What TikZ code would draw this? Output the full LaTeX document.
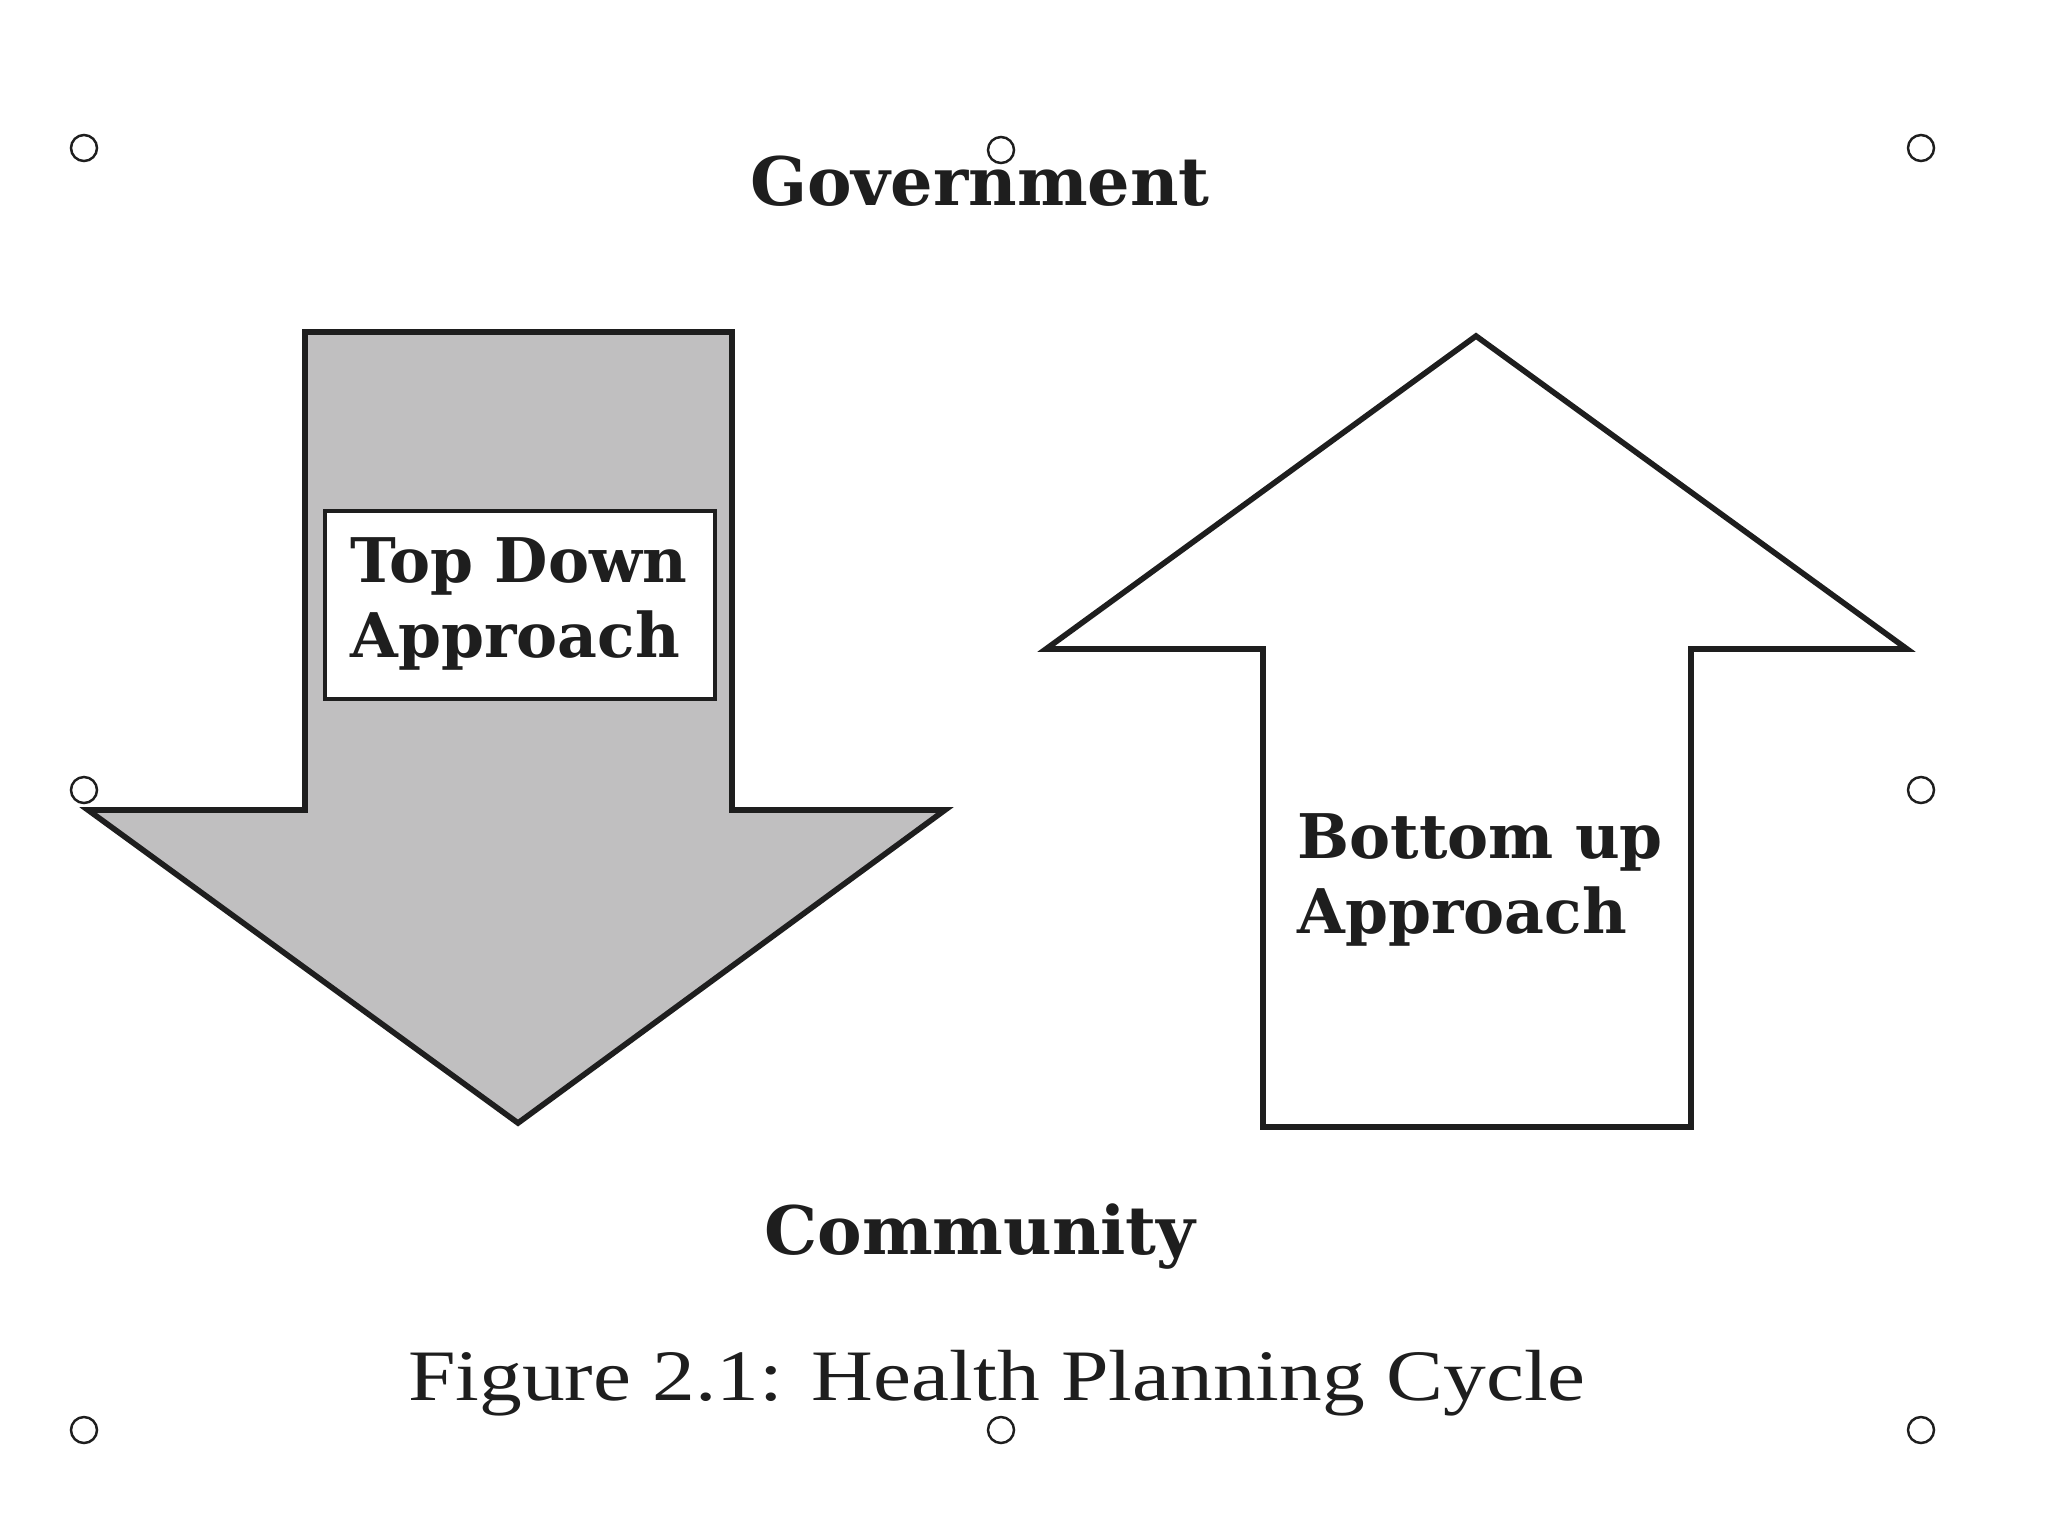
\documentclass[tikz,border=0pt]{standalone}
\usepackage{fontspec}
\newfontfamily\lblfont{DejaVu Serif}
\newfontfamily\capfont{Liberation Serif}
\definecolor{arrowgray}{RGB}{192,191,192}
\definecolor{ink}{RGB}{30,30,30}
\begin{document}
\begin{tikzpicture}[x=0.01cm,y=-0.01cm,
  shapeline/.style={draw=ink,line width=1.6pt,line join=miter},
  handle/.style={draw=ink,line width=0.7pt,fill=white},
  boldlbl/.style={inner sep=0pt,font=\lblfont\bfseries\fontsize{19}{21}\selectfont,text=ink},
  innerlbl/.style={inner sep=0pt,align=left,font=\lblfont\bfseries\fontsize{17.5}{21.3}\selectfont,text=ink},
  caplbl/.style={inner sep=0pt,font=\capfont\fontsize{20.6}{24}\selectfont,text=ink}]
\useasboundingbox[fill=white] (0,0) rectangle (2048,1536);

% Top down arrow
\draw[shapeline,fill=arrowgray] (305,332) -- (732,332) -- (732,810) -- (945,810)
  -- (518,1123) -- (88,810) -- (305,810) -- cycle;
\node[draw=ink,line width=1.1pt,fill=white,inner sep=0pt,
  anchor=north west,minimum width=3.9cm,minimum height=1.88cm] (tdbox) at (323,509) {};
\node[innerlbl,anchor=base west] (tdtext) at (350,657) {Top Down\\Approach};

% Bottom up arrow
\draw[shapeline,fill=white] (1476,336) -- (1907,649) -- (1691,649) -- (1691,1127)
  -- (1263,1127) -- (1263,649) -- (1046,649) -- cycle;
\node[innerlbl,anchor=base west] (butext) at (1297,933) {Bottom up\\Approach};

% labels
\node[boldlbl,anchor=base] (gov) at (980,205) {Government};
\node[boldlbl,anchor=base] (comm) at (980,1254) {Community};
\node[caplbl,anchor=base] (cap) at (997,1400) {\scalebox{1.18}[1]{Figure 2.1: Health Planning Cycle}};

% selection handles
\foreach \hx/\hy [count=\i] in {84/148,1001/150,1921/148,84/790,1921/790,84/1430,1001/1430,1921/1430}
  \node[handle,circle,minimum size=0.26cm,inner sep=0pt] (h\i) at (\hx,\hy) {};
\end{tikzpicture}
\end{document}
